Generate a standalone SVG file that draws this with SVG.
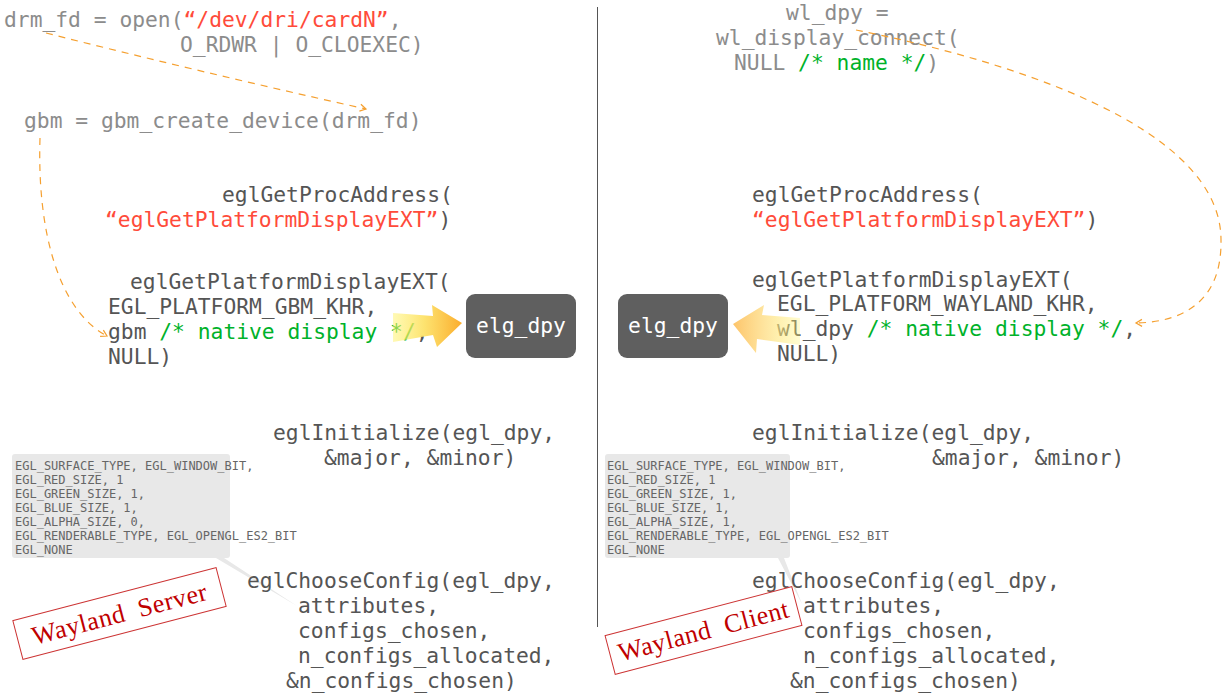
<svg xmlns="http://www.w3.org/2000/svg" width="1226" height="696" viewBox="0 0 1226 696">
<style>
.c{font-family:"DejaVu Sans Mono","Liberation Mono",monospace;font-size:21.3px;fill:#555}
.l{fill:#8c8c8c}
.r{fill:#ff4b3a}
.g{fill:#00b22a}
.s{font-family:"DejaVu Sans Mono","Liberation Mono",monospace;font-size:12px;fill:#666}
.box{fill:#5f5f5f}
.bt{font-family:"DejaVu Sans Mono","Liberation Mono",monospace;font-size:21.3px;fill:#fff}
.call{fill:#e8e8e8}
.dash{fill:none;stroke:#f5a030;stroke-width:1.2;stroke-dasharray:7 6}
.tag{fill:#fff;stroke:#cc3333;stroke-width:1}
.tagt{font-family:"Liberation Serif","DejaVu Serif",serif;font-size:26px;fill:#c00000;letter-spacing:0.5px;white-space:pre}
</style>
<defs>
<marker id="ah" markerWidth="10" markerHeight="10" refX="8" refY="5" orient="auto" markerUnits="userSpaceOnUse">
<path d="M2,1.5 L8,5 L2,8.5" fill="none" stroke="#f5a030" stroke-width="1.2"/>
</marker>
<linearGradient id="gl" gradientUnits="userSpaceOnUse" x1="393" y1="0" x2="462" y2="0">
<stop offset="0" stop-color="#fff36b" stop-opacity="0.5"/>
<stop offset="0.45" stop-color="#fde060" stop-opacity="0.9"/>
<stop offset="1" stop-color="#fbac2c"/>
</linearGradient>
<linearGradient id="gr" gradientUnits="userSpaceOnUse" x1="800" y1="0" x2="733" y2="0">
<stop offset="0" stop-color="#fff36b" stop-opacity="0.3"/>
<stop offset="0.5" stop-color="#fee08a" stop-opacity="0.8"/>
<stop offset="1" stop-color="#fdc46a"/>
</linearGradient>
</defs>

<line x1="597.5" y1="7" x2="597.5" y2="627" stroke="#555" stroke-width="1"/>

<g id="left-open">
<text class="c l" x="4" y="27">drm_fd = open(<tspan class="r">“/dev/dri/cardN”</tspan>,</text>
<text class="c l" x="180" y="52">O_RDWR | O_CLOEXEC)</text>
</g>
<g id="left-gbm">
<text class="c l" x="24" y="128">gbm = gbm_create_device(drm_fd)</text>
</g>
<g id="left-proc">
<text class="c" x="222" y="202">eglGetProcAddress(</text>
<text class="c" x="105" y="227"><tspan class="r">“eglGetPlatformDisplayEXT”</tspan>)</text>
</g>
<g id="left-platform">
<text class="c" x="130" y="289">eglGetPlatformDisplayEXT(</text>
<text class="c" x="108" y="314">EGL_PLATFORM_GBM_KHR,</text>
<text class="c" x="108" y="339">gbm <tspan class="g">/* native display */</tspan>,</text>
<text class="c" x="108" y="364">NULL)</text>
</g>
<g id="left-dpy">
<rect class="box" x="466" y="294" width="110" height="64" rx="9"/>
<text class="bt" x="521" y="333" text-anchor="middle">elg_dpy</text>
</g>
<g id="left-init">
<text class="c" x="273" y="440">eglInitialize(egl_dpy,</text>
<text class="c" x="324" y="465">&amp;major, &amp;minor)</text>
</g>
<g id="left-attribs">
<path class="call" d="M15,454 H227 Q230,454 230,457 V555 Q230,558 227,558 H216 L297,606 L224,558 H15 Q12,558 12,555 V457 Q12,454 15,454 Z"/>
<text class="s" x="15" y="470">EGL_SURFACE_TYPE, EGL_WINDOW_BIT,</text>
<text class="s" x="15" y="484">EGL_RED_SIZE, 1</text>
<text class="s" x="15" y="498">EGL_GREEN_SIZE, 1,</text>
<text class="s" x="15" y="512">EGL_BLUE_SIZE, 1,</text>
<text class="s" x="15" y="526">EGL_ALPHA_SIZE, 0,</text>
<text class="s" x="15" y="540">EGL_RENDERABLE_TYPE, EGL_OPENGL_ES2_BIT</text>
<text class="s" x="15" y="554">EGL_NONE</text>
</g>
<g id="left-choose">
<text class="c" x="247" y="588">eglChooseConfig(egl_dpy,</text>
<text class="c" x="298" y="613">attributes,</text>
<text class="c" x="298" y="638">configs_chosen,</text>
<text class="c" x="298" y="663">n_configs_allocated,</text>
<text class="c" x="286" y="688">&amp;n_configs_chosen)</text>
</g>
<g id="server-tag" transform="translate(119.5,613.5) rotate(-14.6)">
<rect class="tag" x="-105" y="-20" width="210" height="40"/>
<text class="tagt" x="0" y="9" text-anchor="middle" xml:space="preserve">Wayland  Server</text>
</g>

<g id="right-connect">
<text class="c l" x="786" y="20">wl_dpy =</text>
<text class="c l" x="716" y="45">wl_display_connect(</text>
<text class="c l" x="734" y="70">NULL <tspan class="g">/* name */</tspan>)</text>
</g>
<g id="right-proc">
<text class="c" x="752" y="202">eglGetProcAddress(</text>
<text class="c" x="752" y="227"><tspan class="r">“eglGetPlatformDisplayEXT”</tspan>)</text>
</g>
<g id="right-platform">
<text class="c" x="752" y="287">eglGetPlatformDisplayEXT(</text>
<text class="c" x="777" y="311">EGL_PLATFORM_WAYLAND_KHR,</text>
<text class="c" x="777" y="336">wl_dpy <tspan class="g">/* native display */</tspan>,</text>
<text class="c" x="777" y="361">NULL)</text>
</g>
<g id="right-dpy">
<rect class="box" x="618" y="294" width="110" height="64" rx="9"/>
<text class="bt" x="673" y="333" text-anchor="middle">elg_dpy</text>
</g>
<g id="right-init">
<text class="c" x="752" y="440">eglInitialize(egl_dpy,</text>
<text class="c" x="932" y="465">&amp;major, &amp;minor)</text>
</g>
<g id="right-attribs">
<path class="call" d="M608,454 H787 Q790,454 790,457 V555 Q790,558 787,558 H784 L802,604 L778,558 H608 Q605,558 605,555 V457 Q605,454 608,454 Z"/>
<text class="s" x="607" y="470">EGL_SURFACE_TYPE, EGL_WINDOW_BIT,</text>
<text class="s" x="607" y="484">EGL_RED_SIZE, 1</text>
<text class="s" x="607" y="498">EGL_GREEN_SIZE, 1,</text>
<text class="s" x="607" y="512">EGL_BLUE_SIZE, 1,</text>
<text class="s" x="607" y="526">EGL_ALPHA_SIZE, 1,</text>
<text class="s" x="607" y="540">EGL_RENDERABLE_TYPE, EGL_OPENGL_ES2_BIT</text>
<text class="s" x="607" y="554">EGL_NONE</text>
</g>
<g id="right-choose">
<text class="c" x="752" y="588">eglChooseConfig(egl_dpy,</text>
<text class="c" x="803" y="613">attributes,</text>
<text class="c" x="803" y="638">configs_chosen,</text>
<text class="c" x="803" y="663">n_configs_allocated,</text>
<text class="c" x="790" y="688">&amp;n_configs_chosen)</text>
</g>
<g id="client-tag" transform="translate(703.5,630.5) rotate(-14.7)">
<rect class="tag" x="-96.5" y="-20" width="193" height="40"/>
<text class="tagt" x="0" y="9" text-anchor="middle" xml:space="preserve">Wayland  Client</text>
</g>

<g id="connectors">
<path class="dash" d="M46,33 Q200,72 366,109" marker-end="url(#ah)"/>
<path class="dash" d="M40,138 C37,230 58,310 107,336" marker-end="url(#ah)"/>
<path class="dash" d="M856,30 C1005,60 1221,125 1221,240 C1222,300 1185,322 1136,323" marker-end="url(#ah)"/>
<path d="M393,313 L433,316 L432,305 L462,323 L437,347 L433,335 L393,342 Z" fill="url(#gl)"/>
<path d="M800,318 L762,315 L764,305 L733,324 L756,353 L757,339 L800,345 Z" fill="url(#gr)"/>
</g>
</svg>
